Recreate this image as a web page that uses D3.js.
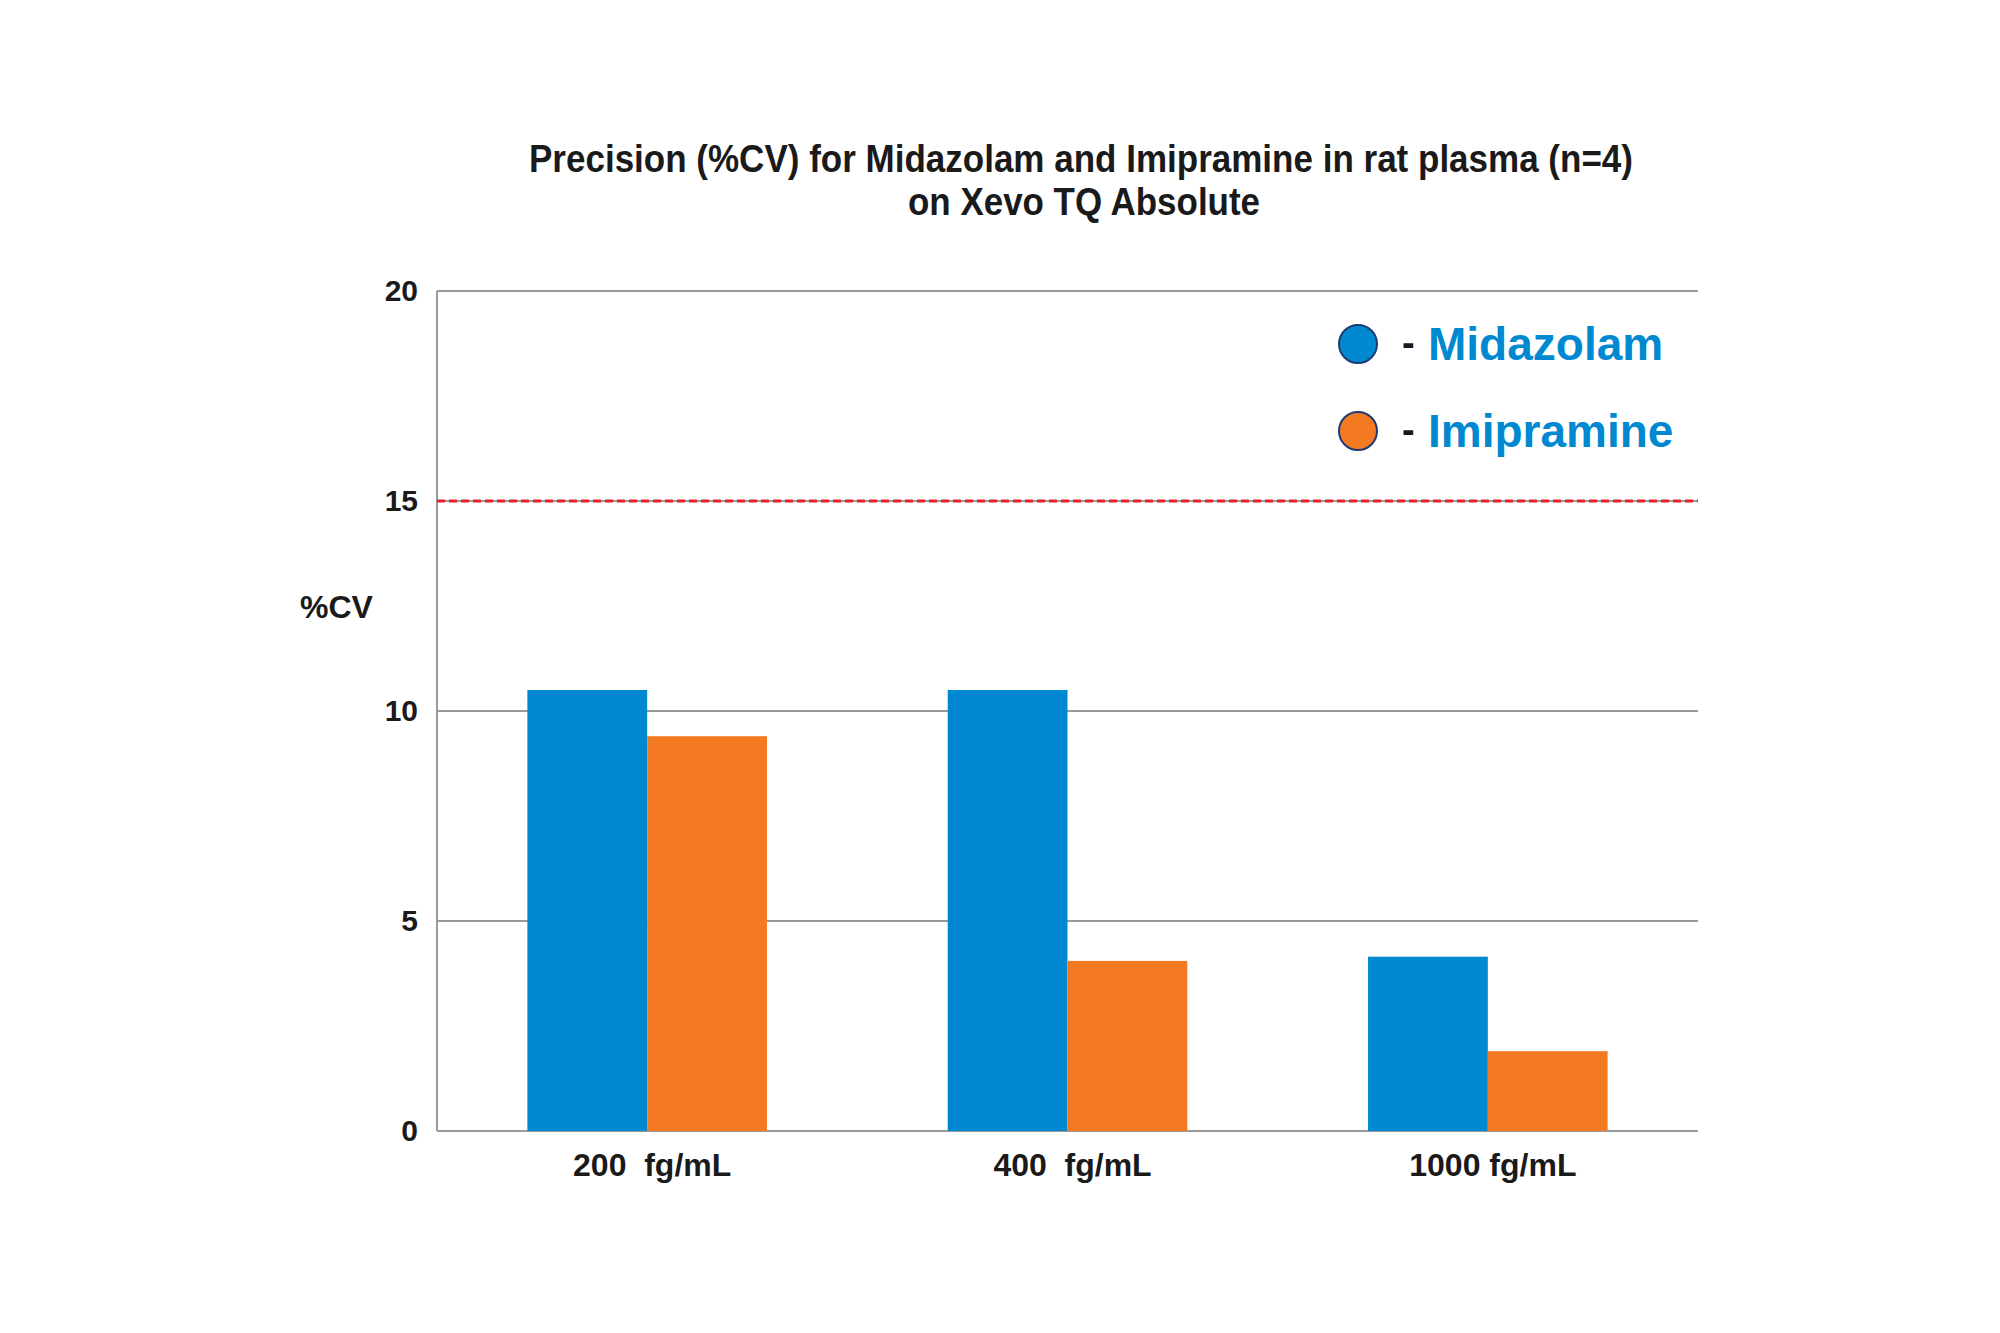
<!DOCTYPE html>
<html>
<head>
<meta charset="utf-8">
<script src="https://cdn.jsdelivr.net/npm/d3@7"></script>
<style>
  body { margin: 0; background: #fff; }
  text { font-family: "Liberation Sans", Arial, sans-serif; font-weight: bold; }
</style>
</head>
<body>
<div id="chart"></div>
<script>
// Data
let categories = ["200  fg/mL", "400  fg/mL", "1000 fg/mL"];
let seriesNames = ["Midazolam", "Imipramine"];
let midazolam = [10.5, 10.5, 4.15];
let imipramine = [9.4, 4.05, 1.9];
let yTicks = [0, 5, 10, 15, 20];
let limitValue = 15;

let svgWidth = 2000;
let svgHeight = 1333;

let margin = { top: 291, right: 302, bottom: 202, left: 437 };
let width = svgWidth - margin.left - margin.right;
let height = svgHeight - margin.top - margin.bottom;

let colors = ["#0089d0", "#f47a22"];

let svg = d3.select("#chart")
  .append("svg")
  .attr("width", svgWidth)
  .attr("height", svgHeight);

let chartGroup = svg.append("g")
  .attr("transform", `translate(${margin.left}, ${margin.top})`);

// scales
let x0 = d3.scaleBand()
  .domain(categories)
  .range([0, width])
  .paddingInner(0.43)
  .paddingOuter(0.215);

let x1 = d3.scaleBand()
  .domain(seriesNames)
  .range([0, x0.bandwidth()]);

let y = d3.scaleLinear()
  .domain([0, 20])
  .range([height, 0]);

// gridlines
chartGroup.append("g")
  .selectAll("line")
  .data(yTicks)
  .enter()
  .append("line")
  .attr("x1", 0)
  .attr("x2", width)
  .attr("y1", d => y(d))
  .attr("y2", d => y(d))
  .attr("stroke", "#9a9a9a")
  .attr("stroke-width", 2);

// left axis line
chartGroup.append("line")
  .attr("x1", 0).attr("x2", 0)
  .attr("y1", y(20)).attr("y2", y(0))
  .attr("stroke", "#9a9a9a")
  .attr("stroke-width", 2);

// y tick labels
let leftAxis = d3.axisLeft(y).tickValues(yTicks).tickSize(0).tickPadding(19);
let yAxis = chartGroup.append("g").call(leftAxis);
yAxis.select(".domain").remove();
yAxis.selectAll("text")
  .attr("font-size", 30)
  .attr("fill", "#1a1a1a")
  .attr("font-family", "Liberation Sans, Arial, sans-serif");

// bars
let rows = categories.map((c, i) => ({ cat: c, values: [midazolam[i], imipramine[i]] }));

let groups = chartGroup.selectAll(".grp")
  .data(rows)
  .enter()
  .append("g")
  .attr("transform", d => `translate(${x0(d.cat)}, 0)`);

groups.selectAll("rect")
  .data(d => d.values.map((v, j) => ({ name: seriesNames[j], value: v, j: j })))
  .enter()
  .append("rect")
  .attr("x", d => x1(d.name))
  .attr("y", d => y(d.value))
  .attr("width", x1.bandwidth())
  .attr("height", d => y(0) - y(d.value))
  .attr("fill", d => colors[d.j]);

// 15% limit line
chartGroup.append("line")
  .attr("x1", 0).attr("x2", width)
  .attr("y1", y(limitValue)).attr("y2", y(limitValue))
  .attr("stroke", "#e3222b")
  .attr("stroke-width", 3)
  .attr("stroke-dasharray", "8,4");

// x labels
let bottomAxis = d3.axisBottom(x0).tickSize(0).tickPadding(22);
let xAxis = chartGroup.append("g")
  .attr("transform", `translate(5, ${height})`)
  .call(bottomAxis);
xAxis.select(".domain").remove();
xAxis.selectAll("text")
  .attr("font-size", 32)
  .attr("fill", "#1a1a1a")
  .attr("font-family", "Liberation Sans, Arial, sans-serif")
  .style("white-space", "pre");

// y axis title
svg.append("text")
  .attr("x", 300)
  .attr("y", 618)
  .attr("font-size", 32)
  .attr("fill", "#1a1a1a")
  .text("%CV");

// chart title (condensed look via textLength)
let title = svg.append("g")
  .attr("font-size", 38)
  .attr("fill", "#1a1a1a");
title.append("text")
  .attr("text-anchor", "middle")
  .attr("x", 1081).attr("y", 172)
  .attr("textLength", 1104)
  .attr("lengthAdjust", "spacingAndGlyphs")
  .text("Precision (%CV) for Midazolam and Imipramine in rat plasma (n=4)");
title.append("text")
  .attr("text-anchor", "middle")
  .attr("x", 1084).attr("y", 215)
  .attr("textLength", 352)
  .attr("lengthAdjust", "spacingAndGlyphs")
  .text("on Xevo TQ Absolute");

// legend
let legend = svg.append("g");
let legendRows = legend.selectAll("g")
  .data(seriesNames)
  .enter()
  .append("g")
  .attr("transform", (d, i) => `translate(1358, ${344 + i * 87})`);

legendRows.append("circle")
  .attr("r", 19)
  .attr("fill", (d, i) => colors[i])
  .attr("stroke", "#1f3b73")
  .attr("stroke-width", 2);

legendRows.append("text")
  .attr("x", 44)
  .attr("y", 12)
  .attr("font-size", 38)
  .attr("font-weight", "normal")
  .attr("fill", "#1a1a1a")
  .text("-");

legendRows.append("text")
  .attr("x", 70)
  .attr("y", 16)
  .attr("font-size", 46)
  .attr("fill", "#0089d0")
  .text(d => d);
</script>
</body>
</html>
